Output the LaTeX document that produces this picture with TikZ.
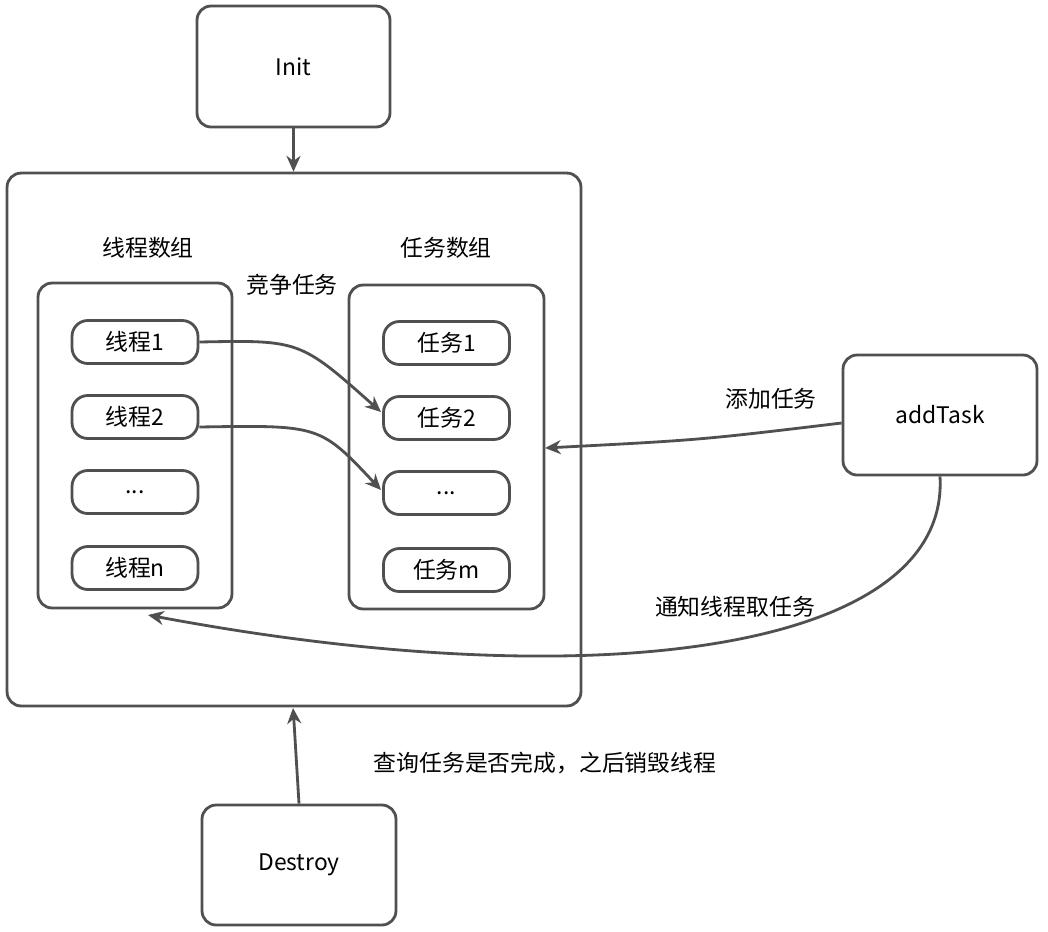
\documentclass[tikz,border=0pt]{standalone}
\usepackage{fontspec}
\setmainfont{Noto Sans CJK SC}
\usetikzlibrary{arrows.meta}
\definecolor{ln}{HTML}{505050}
\begin{document}
\begin{tikzpicture}[x=0.02cm,y=-0.02cm,
  box/.style={draw=ln,line width=1.6pt,rounded corners=8pt,minimum width=#1},
  pill/.style={draw=ln,line width=1.6pt,rounded corners=9pt,minimum width=2.52cm,minimum height=0.86cm,font=\fontsize{13}{15}\selectfont},
  arr/.style={draw=ln,line width=1.6pt,-{Stealth[length=9pt,width=8pt]}},
  lbl/.style={font=\fontsize{13}{15}\selectfont,text=black}]
\useasboundingbox (0,0) rectangle (1048,931);
\node[box=3.86cm,minimum height=2.42cm,lbl] (init) at (293.5,66.5) {Init};
\node[box=11.48cm,minimum height=10.66cm] (big) at (294,439.5) {};
\node[box=3.88cm,minimum height=6.5cm] (tarr) at (135,445.5) {};
\node[box=3.9cm,minimum height=6.48cm] (karr) at (446.5,447) {};
\node[lbl] (tl) at (148,248) {线程数组};
\node[lbl] (kl) at (446,248) {任务数组};
\node[pill] (t1) at (135,342) {线程1};
\node[pill] (t2) at (135,417) {线程2};
\node[pill] (t3) at (135,492) {...};
\node[pill] (tn) at (135,568) {线程n};
\node[pill] (k1) at (446.5,343) {任务1};
\node[pill] (k2) at (446.5,418) {任务2};
\node[pill] (k3) at (446.5,493) {...};
\node[pill] (km) at (446.5,570) {任务m};
\node[box=3.88cm,minimum height=2.4cm,lbl] (add) at (940,415) {addTask};
\node[box=3.88cm,minimum height=2.4cm,lbl] (des) at (299,865) {Destroy};
\draw[arr] (init.south) -- (big.north -| init.south);
\draw[arr] (des.north) .. controls (297,760) .. (293,708);
\node[lbl] at (545,763) {查询任务是否完成，之后销毁线程};
\draw[arr] (add.west |- 0,423) .. controls (700,440) .. (545,448);
\node[lbl] at (771,399) {添加任务};
\draw[arr] (add.south) .. controls (950,650) and (600,700) .. (148,615);
\node[lbl] at (735,607) {通知线程取任务};
\draw[arr] (t1.east) .. controls (300,340) .. (381,412);
\node[lbl] at (292,285) {竞争任务};
\draw[arr] (t2.east |- 0,427) .. controls (320,425) .. (381,490);
\end{tikzpicture}
\end{document}
